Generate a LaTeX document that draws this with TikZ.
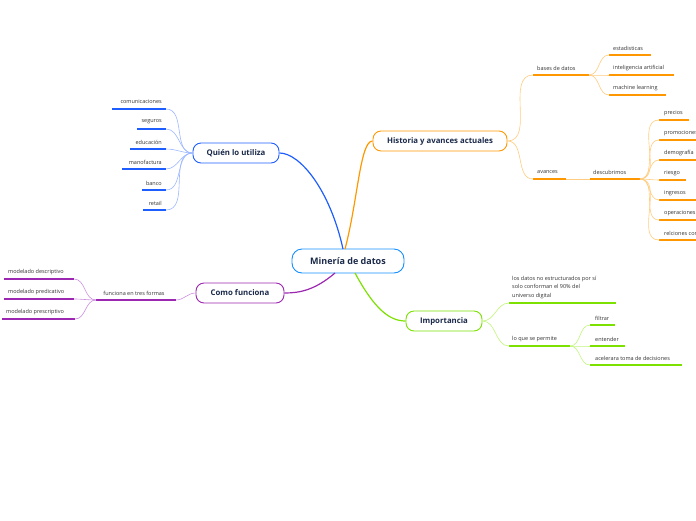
\documentclass[tikz,border=0pt]{standalone}
\usepackage{fontspec}
\setmainfont{Open Sans}
\definecolor{dk}{HTML}{1B2A4A}
\definecolor{or}{HTML}{FF9800}\definecolor{orl}{HTML}{FFCC80}
\definecolor{bl}{HTML}{1E5EFF}\definecolor{bll}{HTML}{9DB8FF}
\definecolor{gr}{HTML}{7CE000}\definecolor{grl}{HTML}{C2F57A}
\definecolor{pu}{HTML}{9C27B0}\definecolor{pul}{HTML}{CC8EE0}
\begin{document}
\begin{tikzpicture}[x=1pt,y=-1pt,
  mainbox/.style={draw,rounded corners=8pt,line width=0.9pt,fill=white,text=dk,font=\fontsize{7.8}{9}\selectfont\bfseries,minimum height=20pt,inner xsep=8pt},
  leaf/.style={anchor=west,inner sep=0pt,font=\fontsize{5.5}{7}\selectfont,text=black!80},
  leafr/.style={anchor=east,inner sep=0pt,font=\fontsize{5.5}{7}\selectfont,text=black!80},
  ul/.style={line width=1.2pt},
  cn/.style={line width=0.6pt}]
\useasboundingbox (0,0) rectangle (696,520);
\clip (0,0) rectangle (696,520);
% central
\node[mainbox,draw=bl!70!cyan,font=\fontsize{9}{10}\selectfont\bfseries,minimum width=112pt,minimum height=24pt,rounded corners=10pt] (c) at (348,261) {Minería de datos};
\node[mainbox,draw=or,minimum width=134pt] (h) at (440,141) {Historia y avances actuales};
\node[mainbox,draw=bl,minimum width=86pt] (q) at (236,153) {Quién lo utiliza};
\node[mainbox,draw=pu,minimum width=88pt] (f) at (240,293) {Como funciona};
\node[mainbox,draw=gr,minimum width=76pt] (i) at (444,321) {Importancia};
\draw[or,line width=1.2pt] (345,249) .. controls (358,200) and (360,141) .. (h.west);
\draw[bl,line width=1.2pt] (343,249) .. controls (330,190) and (300,153) .. (q.east);
\draw[pu,line width=1.2pt] (335,273) .. controls (315,290) and (300,293) .. (f.east);
\draw[gr,line width=1.2pt] (355,273) .. controls (375,310) and (390,321) .. (i.west);
% Quien
\foreach \t/\y/\x [count=\k] in {comunicaciones/102/112,seguros/122/137,educación/142/130,manofactura/162/122,banco/183/142,retail/203/143}{
  \node[leafr] (q\k) at (162,\y) {\t};
  \coordinate (qa\k) at (\x,\y+7); \coordinate (qb\k) at (166,\y+7);
  \draw[bl,ul] (qa\k) -- (qb\k);
  \draw[bll,cn] (q.west) to[out=180,in=0] (qb\k);
}
% Historia
\node[leaf] (bd) at (537,68) {bases de datos};
\coordinate (bda) at (533,75); \coordinate (bdb) at (589,75);
\draw[or,ul] (bda) -- (bdb);
\node[leaf] (av) at (537,172) {avances};
\coordinate (ava) at (533,179); \coordinate (avb) at (566,179);
\draw[or,ul] (ava) -- (avb);
\node[leaf] (de) at (593,172) {descubrimos};
\coordinate (dea) at (590,179); \coordinate (deb) at (640,179);
\draw[or,ul] (dea) -- (deb);
\draw[orl,cn] (h.east) to[out=0,in=180] (bda);
\draw[orl,cn] (h.east) to[out=0,in=180] (ava);
\draw[orl,cn] (avb) -- (dea);
\foreach \t/\y/\w [count=\k] in {estadisticas/48/651,inteligencia artificial/68/674,machine learning/88/666}{
  \node[leaf] (b\k) at (613,\y) {\t};
  \coordinate (ba\k) at (609,\y+7); \coordinate (bb\k) at (\w,\y+7);
  \draw[or,ul] (ba\k) -- (bb\k);
  \draw[orl,cn] (bdb) to[out=0,in=180] (ba\k);
}
\foreach \t/\y/\w [count=\k] in {precios/113/689,promociones/133/700,demografía/153/700,riesgo/173/686,ingresos/193/696,operaciones/213/700,relciones comerciales/233/700}{
  \node[leaf] (d\k) at (664,\y) {\t};
  \coordinate (da\k) at (659,\y+7); \coordinate (db\k) at (\w,\y+7);
  \draw[or,ul] (da\k) -- (db\k);
  \draw[orl,cn] (deb) to[out=0,in=180] (da\k);
}
% Importancia
\node[leaf,anchor=north west,align=left,font=\fontsize{5.5}{8.5}\selectfont] (ld) at (512,276) {los datos no estructurados por sí\\solo conforman el 90\% del\\universo digital};
\coordinate (lda) at (509,303); \coordinate (ldb) at (616,303);
\draw[gr,ul] (lda) -- (ldb);
\node[leaf] (lq) at (512,339) {lo que se permite};
\coordinate (lqa) at (509,346); \coordinate (lqb) at (570,346);
\draw[gr,ul] (lqa) -- (lqb);
\draw[grl,cn] (i.east) to[out=0,in=180] (lda);
\draw[grl,cn] (i.east) to[out=0,in=180] (lqa);
\foreach \t/\y/\w [count=\k] in {filtrar/318/615,entender/339/625,acelerara toma de decisiones/358/682}{
  \node[leaf] (p\k) at (595,\y) {\t};
  \coordinate (pa\k) at (590,\y+7); \coordinate (pb\k) at (\w,\y+7);
  \draw[gr,ul] (pa\k) -- (pb\k);
  \draw[grl,cn] (lqb) to[out=0,in=180] (pa\k);
}
% Como funciona
\node[leaf,anchor=center] (ft) at (134,293) {funciona en tres formas};
\coordinate (fta) at (96,300); \coordinate (ftb) at (176,300);
\draw[pu,ul] (fta) -- (ftb);
\draw[pul,cn] (f.west) to[out=180,in=0] (ftb);
\foreach \t/\y/\x/\w [count=\k] in {modelado descriptivo/272/4/74,modelado predicativo/292/4/74,modelado prescriptivo/312/2/75}{
  \node[leaf] (m\k) at (\x+4,\y) {\t};
  \coordinate (ma\k) at (\x,\y+7); \coordinate (mb\k) at (\w,\y+7);
  \draw[pu,ul] (ma\k) -- (mb\k);
  \draw[pul,cn] (fta) to[out=180,in=0] (mb\k);
}
\end{tikzpicture}
\end{document}
